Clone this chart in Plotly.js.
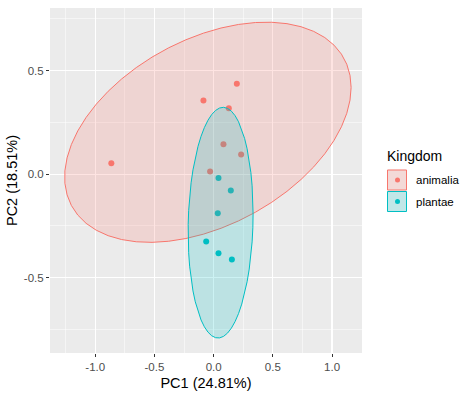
<!DOCTYPE html>
<html>
<head>
<meta charset="utf-8">
<script src="https://cdn.plot.ly/plotly-3.0.1.min.js"></script>
<style>html,body{margin:0;padding:0;background:#fff;}#chart{width:474px;height:397px;}</style>
</head>
<body>
<div id="chart"></div>
<script>
// Data
const groups = ["animalia", "plantae"];
const groupColors = ["#F8766D", "#00BFC4"];
const groupFills = ["rgba(248,118,109,0.2)", "rgba(0,191,196,0.2)"];
const animaliaPC1 = [-0.864, -0.086, 0.196, 0.128, 0.083, 0.232, -0.030];
const animaliaPC2 = [0.053, 0.355, 0.437, 0.318, 0.145, 0.095, 0.013];
const plantaePC1 = [0.041, 0.145, 0.035, -0.063, 0.041, 0.154];
const plantaePC2 = [-0.019, -0.079, -0.188, -0.325, -0.381, -0.412];
const xTickVals = [-1.0, -0.5, 0.0, 0.5, 1.0];
const xTickText = ["-1.0", "-0.5", "0.0", "0.5", "1.0"];
const yTickVals = [-0.5, 0.0, 0.5];
const yTickText = ["-0.5", "0.0", "0.5"];
const xTitle = "PC1 (24.81%)";
const yTitle = "PC2 (18.51%)";
const legendTitle = "Kingdom";

const xs = [animaliaPC1, plantaePC1];
const ys = [animaliaPC2, plantaePC2];

// stat_ellipse-like: 95% level, covariance of the points, F quantile radius
function qf2(p, d) { return (d / 2) * (Math.pow(1 - p, -2 / d) - 1); }
function ellipse(x, y, level, segments) {
  const n = x.length;
  const mx = x.reduce((a, b) => a + b, 0) / n;
  const my = y.reduce((a, b) => a + b, 0) / n;
  let sxx = 0, syy = 0, sxy = 0;
  for (let i = 0; i < n; i++) {
    sxx += (x[i] - mx) ** 2; syy += (y[i] - my) ** 2; sxy += (x[i] - mx) * (y[i] - my);
  }
  sxx /= (n - 1); syy /= (n - 1); sxy /= (n - 1);
  const r11 = Math.sqrt(sxx), r12 = sxy / r11, r22 = Math.sqrt(syy - r12 * r12);
  const rad = Math.sqrt(2 * qf2(level, n - 1));
  const ex = [], ey = [];
  for (let k = 0; k <= segments; k++) {
    const t = 2 * Math.PI * k / segments;
    const c = Math.cos(t), s = Math.sin(t);
    ex.push(mx + rad * c * r11);
    ey.push(my + rad * (c * r12 + s * r22));
  }
  return [ex, ey];
}

const traces = [];
groups.forEach((g, i) => {
  traces.push({
    x: xs[i], y: ys[i], type: "scatter", mode: "markers", name: g,
    marker: { color: groupColors[i], size: 6 }, showlegend: false, hoverinfo: "x+y"
  });
});
groups.forEach((g, i) => {
  const [ex, ey] = ellipse(xs[i], ys[i], 0.95, 51);
  traces.push({
    x: ex, y: ey, type: "scatter", mode: "lines", fill: "toself",
    fillcolor: groupFills[i], line: { color: groupColors[i], width: 1 },
    showlegend: false, hoverinfo: "skip"
  });
});

// manual ggplot-style legend in paper coordinates
const L = 50, R = 362, T = 8, B = 353;
const px = v => (v - L) / (R - L);
const py = v => (B - v) / (B - T);
const shapes = [], annotations = [];
annotations.push({
  text: legendTitle, xref: "paper", yref: "paper", x: px(385), y: py(156),
  xanchor: "left", yanchor: "middle", showarrow: false,
  font: { family: "Liberation Sans, Arial, sans-serif", size: 14, color: "#000" }
});
groups.forEach((g, i) => {
  const top = 169.5 + i * 21.5, bot = top + 21;
  shapes.push({ type: "rect", xref: "paper", yref: "paper", x0: px(387), x1: px(407), y0: py(bot), y1: py(top),
    fillcolor: "#F2F2F2", line: { width: 0 }, layer: "above" });
  shapes.push({ type: "rect", xref: "paper", yref: "paper", x0: px(387.5), x1: px(406.5), y0: py(bot - 0.5), y1: py(top + 0.5),
    fillcolor: groupFills[i], line: { color: groupColors[i], width: 1 }, layer: "above" });
  const cy = (top + bot) / 2;
  shapes.push({ type: "circle", xref: "paper", yref: "paper", x0: px(395), x1: px(400), y0: py(cy + 2.5), y1: py(cy - 2.5),
    fillcolor: groupColors[i], line: { width: 0 }, layer: "above" });
  annotations.push({
    text: g, xref: "paper", yref: "paper", x: px(414), y: py(cy),
    xanchor: "left", yanchor: "middle", showarrow: false,
    font: { family: "Liberation Sans, Arial, sans-serif", size: 11.5, color: "#000" }
  });
});

const axisCommon = {
  showgrid: true, gridcolor: "#FFFFFF", gridwidth: 1.1, zeroline: false, showline: false,
  ticks: "outside", ticklen: 3, tickwidth: 1, tickcolor: "#333333",
  tickfont: { family: "Liberation Sans, Arial, sans-serif", size: 11.5, color: "#4D4D4D" },
  minor: { dtick: 0.25, showgrid: true, gridcolor: "#FFFFFF", gridwidth: 0.5, ticks: "" }
};

const layout = {
  width: 474, height: 397,
  margin: { l: L, r: 474 - R, t: T, b: 397 - B },
  paper_bgcolor: "#FFFFFF", plot_bgcolor: "#EBEBEB",
  showlegend: false,
  font: { family: "Liberation Sans, Arial, sans-serif" },
  xaxis: Object.assign({}, axisCommon, {
    range: [-1.382, 1.253], tickvals: xTickVals, ticktext: xTickText, tick0: 0,
    minor: Object.assign({}, axisCommon.minor, { tick0: 0.25, dtick: 0.5 }),
    title: { text: xTitle, font: { size: 14.5, color: "#000" }, standoff: 6 }
  }),
  yaxis: Object.assign({}, axisCommon, {
    range: [-0.863, 0.802], tickvals: yTickVals, ticktext: yTickText,
    minor: Object.assign({}, axisCommon.minor, { tick0: 0.25, dtick: 0.5 }),
    title: { text: yTitle, font: { size: 14.5, color: "#000" }, standoff: 2 }
  }),
  shapes: shapes, annotations: annotations
};

Plotly.newPlot("chart", traces, layout, { displayModeBar: false, staticPlot: true });
</script>
</body>
</html>
